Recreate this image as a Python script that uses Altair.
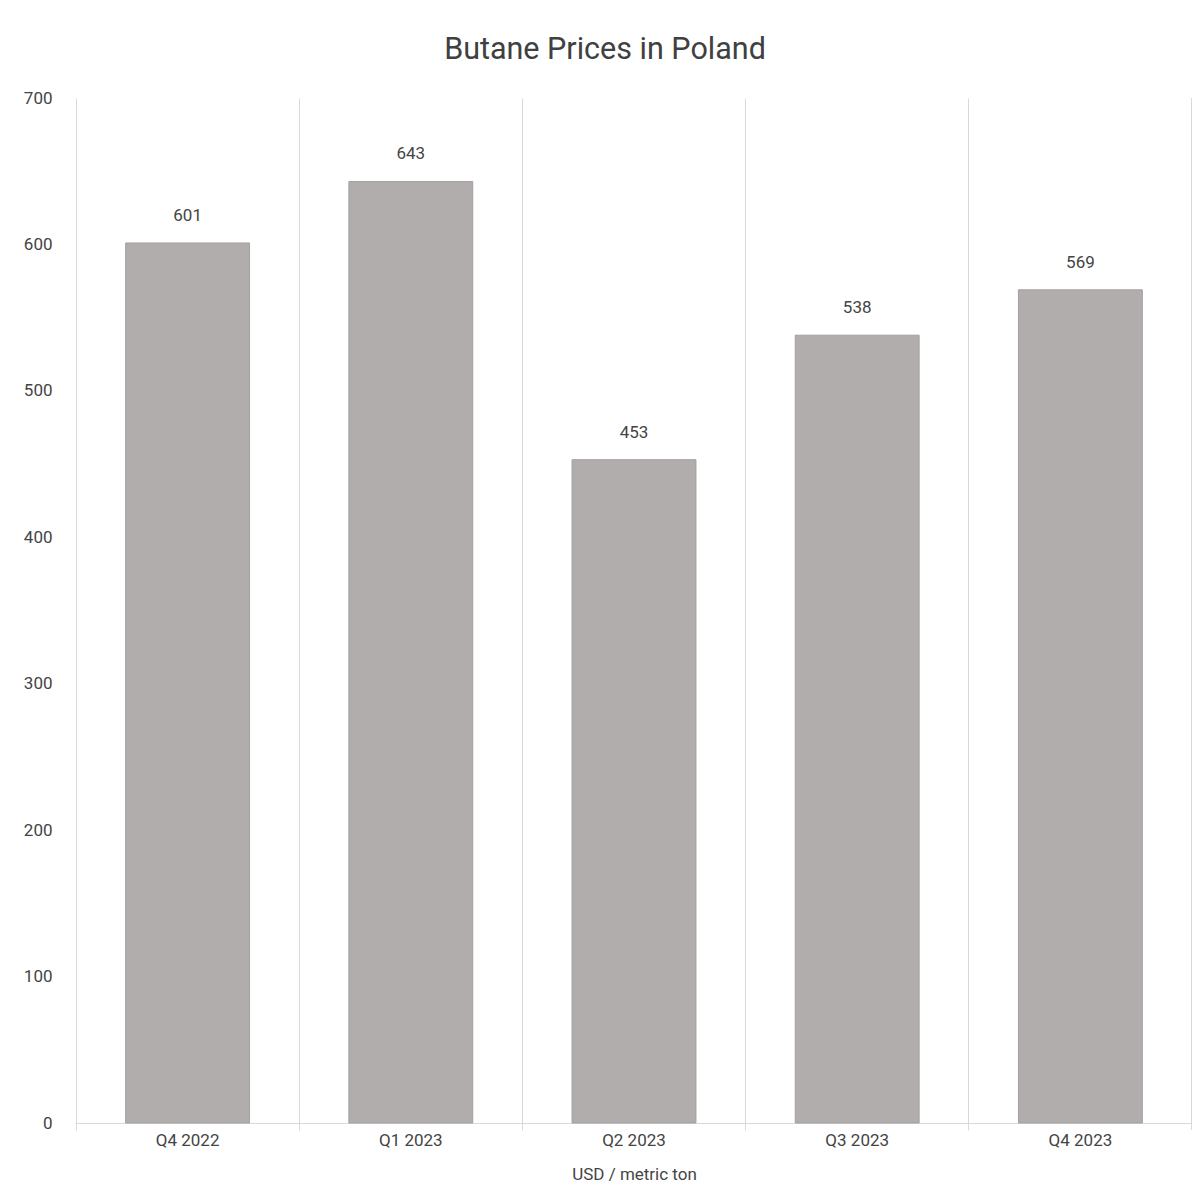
import altair as alt
import pandas as pd

quarters = ["Q4 2022", "Q1 2023", "Q2 2023", "Q3 2023", "Q4 2023"]
prices = [601, 643, 453, 538, 569]

df = pd.DataFrame({"quarter": quarters, "price": prices})

W, H = 1116, 1025
FONT = "Roboto"

x_enc = alt.X(
    "quarter:N",
    sort=quarters,
    title="USD / metric ton",
    scale=alt.Scale(paddingInner=0, paddingOuter=0),
    axis=alt.Axis(
        labelAngle=0,
        bandPosition=0,
        grid=True,
        gridColor="#d9d9d9",
        gridWidth=1,
        domainColor="#d9d9d9",
        tickColor="#d9d9d9",
        tickSize=7,
        labelFontSize=17,
        labelColor="#444444",
        labelFont=FONT,
        labelPadding=2,
        titleFontSize=17,
        titleFont=FONT,
        titleColor="#444444",
        titleFontWeight="normal",
        titlePadding=18,
    ),
)

y_enc = alt.Y(
    "price:Q",
    title=None,
    scale=alt.Scale(domain=[0, 700]),
    axis=alt.Axis(
        values=[0, 100, 200, 300, 400, 500, 600, 700],
        grid=False,
        domain=False,
        ticks=False,
        labelPadding=24,
        labelFontSize=17,
        labelColor="#444444",
        labelFont=FONT,
    ),
)

bars = alt.Chart(df).mark_bar(
    color="#b0adac", stroke="#a3a09f", strokeWidth=1, width=alt.RelativeBandSize(0.555)
).encode(x=x_enc, y=y_enc)

labels = alt.Chart(df).mark_text(
    baseline="bottom", dy=-18, fontSize=17, font=FONT, color="#444444"
).encode(
    x=alt.X("quarter:N", sort=quarters),
    y="price:Q",
    text="price:Q",
)

right_edge = alt.Chart(df).mark_rule(color="#d9d9d9", strokeWidth=1).encode(
    x=alt.value(W - 0.5), y=alt.value(0), y2=alt.value(H + 7)
)

chart = (
    alt.layer(bars, labels, right_edge)
    .properties(
        width=W,
        height=H,
        autosize=alt.AutoSizeParams(type="none"),
        padding={"left": 68, "top": 90, "right": 0, "bottom": 62},
        title=alt.Title(
            "Butane Prices in Poland",
            fontSize=30.5,
            font=FONT,
            fontWeight="normal",
            color="#404040",
            offset=24,
            dx=-29,
        ),
    )
    .configure_view(stroke=None)
)

chart.save("out.html", embed_options={"renderer": "svg", "actions": False})
